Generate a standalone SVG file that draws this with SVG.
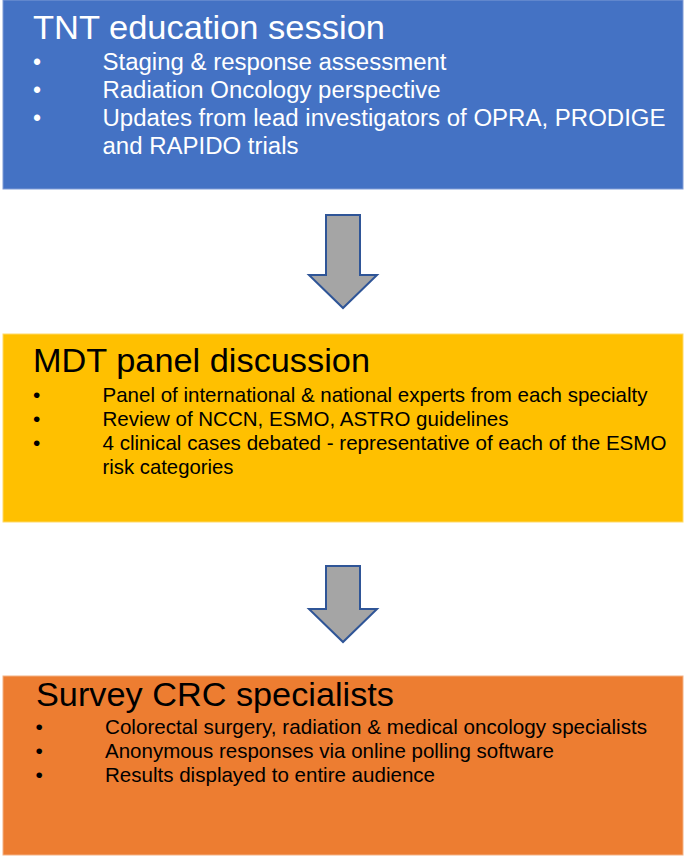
<svg xmlns="http://www.w3.org/2000/svg" width="685" height="858" viewBox="0 0 685 858">
<style>
.t{font-family:"Liberation Sans",Arial,sans-serif;}
.title{font-size:33px;}
.b1{font-size:23px;}
.b2{font-size:21px;}
.w{fill:#ffffff;}
.k{fill:#000000;}
.arrow{fill:#A5A5A5;stroke:#2F5597;stroke-width:2;stroke-linejoin:miter;}
</style>
<rect width="685" height="858" fill="#ffffff"/>
<g id="node-tnt">
<rect x="3" y="0" width="680" height="189" fill="#4472C4" stroke="#7F9BD6" stroke-width="1"/>
<text class="t title w" x="33" y="38.5" textLength="352" lengthAdjust="spacingAndGlyphs">TNT education session</text>
<g class="t b1 w">
<text x="33" y="70">•</text><text x="102.5" y="70" textLength="344" lengthAdjust="spacingAndGlyphs">Staging &amp; response assessment</text>
<text x="33" y="98">•</text><text x="102.5" y="98" textLength="338" lengthAdjust="spacingAndGlyphs">Radiation Oncology perspective</text>
<text x="33" y="126">•</text><text x="102.5" y="126" textLength="563" lengthAdjust="spacingAndGlyphs">Updates from lead investigators of OPRA, PRODIGE</text>
<text x="102.5" y="154" textLength="196" lengthAdjust="spacingAndGlyphs">and RAPIDO trials</text>
</g>
</g>
<g id="node-mdt">
<rect x="3" y="334" width="680" height="188" fill="#FFC000" stroke="#FFD966" stroke-width="1"/>
<text class="t title k" x="33" y="371.5" textLength="337" lengthAdjust="spacingAndGlyphs">MDT panel discussion</text>
<g class="t b2 k">
<text x="33" y="401.5">•</text><text x="102.5" y="401.5" textLength="545" lengthAdjust="spacingAndGlyphs">Panel of international &amp; national experts from each specialty</text>
<text x="33" y="425.5">•</text><text x="102.5" y="425.5" textLength="406" lengthAdjust="spacingAndGlyphs">Review of NCCN, ESMO, ASTRO guidelines</text>
<text x="33" y="449.5">•</text><text x="102.5" y="449.5" textLength="564" lengthAdjust="spacingAndGlyphs">4 clinical cases debated - representative of each of the ESMO</text>
<text x="102.5" y="473.5" textLength="131" lengthAdjust="spacingAndGlyphs">risk categories</text>
</g>
</g>
<g id="node-survey">
<rect x="3" y="676" width="680" height="179" fill="#ED7D31" stroke="#F4B183" stroke-width="1"/>
<text class="t title k" x="36" y="705.5" textLength="358" lengthAdjust="spacingAndGlyphs">Survey CRC specialists</text>
<g class="t b2 k">
<text x="35.5" y="733.5">•</text><text x="105" y="733.5" textLength="542" lengthAdjust="spacingAndGlyphs">Colorectal surgery, radiation &amp; medical oncology specialists</text>
<text x="35.5" y="757.5">•</text><text x="105" y="757.5" textLength="449" lengthAdjust="spacingAndGlyphs">Anonymous responses via online polling software</text>
<text x="35.5" y="781.5">•</text><text x="105" y="781.5" textLength="330" lengthAdjust="spacingAndGlyphs">Results displayed to entire audience</text>
</g>
</g>
<g id="connectors">
<path class="arrow" d="M326,215 H360 V275 H377 L343,308 L309,275 H326 Z"/>
<path class="arrow" d="M326,566 H360 V609 H377 L343,642 L309,609 H326 Z"/>
</g>
</svg>
